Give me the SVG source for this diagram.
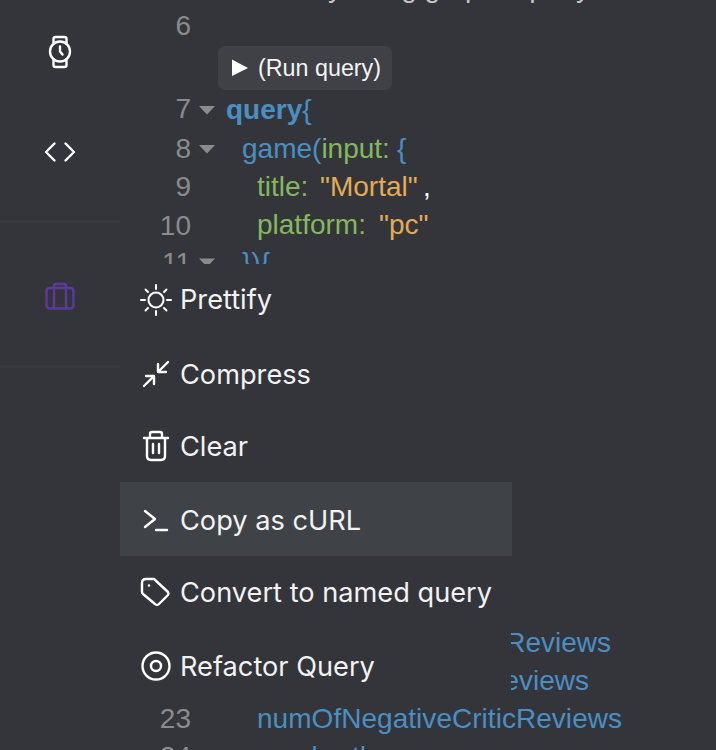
<svg xmlns="http://www.w3.org/2000/svg" width="716" height="750" viewBox="0 0 716 750">
<defs><style>
.c{font-family:"Liberation Sans",Arial,sans-serif;font-size:28px}
.n{fill:#8a8b8d;text-anchor:end}
.b{fill:#4a8fc4}.g{fill:#85b85e}.o{fill:#e3ab55}
.m{font-family:Inter,sans-serif;font-size:27.2px;fill:#f2f2f3}
.i{fill:none;stroke:#fff;stroke-width:2.4;stroke-linecap:round;stroke-linejoin:round}
.f{fill:#8a8b8d}
</style>
<clipPath id="clip11"><rect x="120" y="240" width="400" height="24"/></clipPath>
<clipPath id="clipRev"><rect x="511" y="620" width="205" height="90"/></clipPath>
</defs>
<rect width="716" height="750" fill="#34353a"/>
<g id="sidebar">
<rect x="0" y="220" width="120" height="3" fill="#393a3f"/>
<rect x="0" y="365" width="120" height="3" fill="#393a3f"/>
<g id="icon-watch" class="i"><circle cx="60" cy="51.500" r="10"/><path d="M53.500 44V39Q53.500 37 55.500 37H64.500Q66.500 37 66.500 39V44M53.500 59V65Q53.500 67 55.500 67H64.500Q66.500 67 66.500 65V59M60 46.500V51.500L62.500 54.500"/></g>
<g id="icon-code" class="i"><path d="M54.500 143.500L46 152L54.500 160.500M65.500 143.500L74 152L65.500 160.500"/></g>
<g id="icon-briefcase" class="i" style="stroke:#5b3a9b"><rect x="46.500" y="288" width="27" height="20.500" rx="3"/><path d="M54 288V308.500M66 288V308.500M54 288V285.500Q54 284 56 284H64Q66 284 66 285.500V288"/></g>
</g>
<g id="code">
<text class="c" x="328" y="-3" fill="#c4c5c7">y using graph<tspan x="520">query</tspan></text>
<text class="c n" x="191" y="35">6</text>
<text class="c n" x="191" y="118">7</text>
<text class="c n" x="191" y="157.500">8</text>
<text class="c n" x="191" y="196">9</text>
<text class="c n" x="191" y="234.500">10</text>
<g clip-path="url(#clip11)"><text class="c n" x="191" y="272">11</text><path class="f" d="M199 258.500H215L207 267Z"/><text class="c b" x="242" y="272">}){</text></g>
<path class="f" d="M199 106H215L207 114.500Z"/>
<path class="f" d="M199 145H215L207 153.500Z"/>
<text class="c" x="226" y="119"><tspan class="b" font-weight="bold">query</tspan><tspan class="b">{</tspan></text>
<text class="c" x="242" y="158"><tspan class="b">game(</tspan><tspan class="g">input: </tspan><tspan class="b" x="397">{</tspan></text>
<text class="c" x="257" y="196"><tspan class="g">title: </tspan><tspan class="o" x="320">"Mortal"</tspan><tspan fill="#fff" x="423">,</tspan></text>
<text class="c" x="257" y="234"><tspan class="g">platform: </tspan><tspan class="o" x="379">"pc"</tspan></text>
<g clip-path="url(#clipRev)">
<text class="c b" x="611" y="652" text-anchor="end">Reviews</text>
<text class="c b" x="589" y="690" text-anchor="end">Reviews</text>
</g>
<text class="c n" x="191" y="728">23</text>
<text class="c b" x="257" y="728" textLength="365">numOfNegativeCriticReviews</text>
<text class="c n" x="191" y="766">24</text>
<text class="c b" x="257" y="766">numberth</text>
</g>
<g id="run-query"><rect x="218" y="46" width="174" height="44" rx="7" fill="#3f4146"/><path d="M232 59.500L248 68L232 76Z" fill="#fff"/><text class="c" x="258" y="76" fill="#f4f4f4" style="font-size:23.300px">(Run query)</text></g>
<g id="menu">
<rect x="120" y="482" width="392" height="74" fill="#3f4246"/>
<g id="prettify"><g class="i" style="stroke-width:2"><circle cx="156" cy="300" r="7.500"/><path d="M156 285V289M156 311V315M141 300H145M167 300H171M145.500 289.500L148 292M164 308L166.500 310.500M145.500 310.500L148 308M164 292L166.500 289.500"/></g><text class="m" x="180" y="309">Prettify</text></g>
<g id="compress"><path class="i" d="M168 362L159 371M158 364V372H166M144 386L153 377M146 376H154V384"/><text class="m" x="180" y="384">Compress</text></g>
<g id="clear"><path class="i" d="M144 438H168M147 438V456Q147 460 151 460H161Q165 460 165 456V438M150 438V434Q150 432 152 432H160Q162 432 162 434V438M153 444V453M159 444V453"/><text class="m" x="180" y="456">Clear</text></g>
<g id="copy-curl"><path class="i" d="M145 511L155 519L145 527M156 530H167"/><text class="m" x="180" y="530">Copy as cURL</text></g>
<g id="convert"><path class="i" d="M142 583V592Q142 593 143 594L155 604Q157 606 159 604L168 595Q169 593 168 592L154 579H146Q142 579 142 583Z"/><circle cx="149" cy="585.500" r="1.300" fill="#fff"/><text class="m" x="180" y="602">Convert to named query</text></g>
<g id="refactor"><circle class="i" cx="156" cy="666" r="13.500"/><circle class="i" cx="156" cy="666" r="5"/><text class="m" x="180" y="676">Refactor Query</text></g>
</g>
</svg>
